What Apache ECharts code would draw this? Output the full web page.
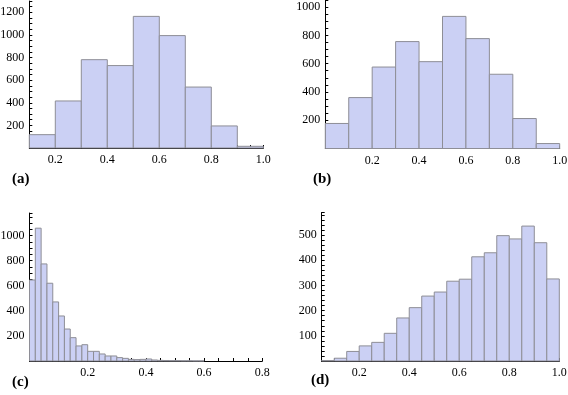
<!DOCTYPE html>
<html>
<head>
<meta charset="utf-8">
<script src="https://cdn.jsdelivr.net/npm/echarts@6/dist/echarts.min.js"></script>
<style>
    html, body {margin: 0; padding: 0; background: #fff;}
    #main {width: 568px; height: 395px;}
</style>
</head>
<body>
<div id="main"></div>
<script>
// 直方图数据 (a)(b)(c)(d)
const aStart = 0.1, aWidth = 0.1;
const aCounts = [118, 416, 781, 729, 1164, 994, 539, 195, 15];
const bStart = 0.0, bWidth = 0.1;
const bCounts = [177, 360, 576, 756, 614, 934, 777, 525, 212, 35];
const cStart = 0.0, cWidth = 0.02;
const cCounts = [646, 1059, 774, 620, 471, 359, 255, 186, 120, 130,
    77, 77, 56, 40, 40, 27, 21, 13, 11, 13,
    16, 8, 5, 4, 3, 3, 2, 2, 1, 1];
const dStart = 0.05, dWidth = 0.05;
const dCounts = [2, 11, 38, 60, 74, 110, 171, 212, 258, 274, 317,
    325, 414, 430, 498, 485, 536, 470, 326];

const xLabelsAB = [0.2, 0.4, 0.6, 0.8, 1.0];
const xLabelsC = [0.2, 0.4, 0.6, 0.8];
const xLabelsD = [0.2, 0.4, 0.6, 0.8, 1.0];
const yLabelsA = [200, 400, 600, 800, 1000, 1200];
const yLabelsB = [200, 400, 600, 800, 1000];
const yLabelsC = [200, 400, 600, 800, 1000];
const yLabelsD = [100, 200, 300, 400, 500];

const panelNames = ['(a)', '(b)', '(c)', '(d)'];

const font = 'Times New Roman, Liberation Serif, DejaVu Serif, serif';

function toBins(start, width, counts) {
    return counts.map((c, i) => [start + i * width, start + (i + 1) * width, c]);
}

function renderBar(params, api) {
    let p0 = api.coord([api.value(0), 0]);
    let p1 = api.coord([api.value(1), api.value(2)]);
    return {
        type: 'rect',
        shape: {x: p0[0], y: p1[1], width: p1[0] - p0[0], height: p0[1] - p1[1]},
        style: {fill: '#cbd0f4', stroke: '#8e8e96', lineWidth: 1}
    };
}

function xAxisOf(idx, min, max, tickStep, labels) {
    return {
        type: 'value', gridIndex: idx, min: min, max: max, interval: tickStep,
        axisLine: {lineStyle: {color: '#000', width: 1}},
        axisTick: {inside: true, length: 3, lineStyle: {color: '#000'}},
        axisLabel: {
            customValues: labels, color: '#000', fontFamily: font, fontSize: 12, margin: 6,
            formatter: v => v.toFixed(1)
        },
        splitLine: {show: false}
    };
}

function yAxisOf(idx, max, tickStep, labels) {
    return {
        type: 'value', gridIndex: idx, min: 0, max: max, interval: tickStep,
        axisLine: {show: true, lineStyle: {color: '#000', width: 1}},
        axisTick: {show: true, inside: true, length: 3, lineStyle: {color: '#000'}},
        axisLabel: {
            customValues: labels, color: '#000', fontFamily: font, fontSize: 12, margin: 5,
            formatter: v => String(Math.round(v))
        },
        splitLine: {show: false}
    };
}

let myChart = echarts.init(document.getElementById('main'), null, {renderer: 'canvas'});

let option = {
    animation: false,
    backgroundColor: '#fff',
    grid: [
        {left: 29.3, top: 1, width: 234, height: 147, outerBoundsMode: 'none'},
        {left: 325.3, top: 0, width: 234.4, height: 148.5, outerBoundsMode: 'none'},
        {left: 29.5, top: 213, width: 232.8, height: 148, outerBoundsMode: 'none'},
        {left: 321.7, top: 212.5, width: 237.6, height: 148.5, outerBoundsMode: 'none'}
    ],
    xAxis: [
        xAxisOf(0, 0.1, 1.0, 0.05, xLabelsAB),
        xAxisOf(1, 0.0, 1.0, 0.05, xLabelsAB),
        xAxisOf(2, 0.0, 0.8, 0.05, xLabelsC),
        xAxisOf(3, 0.05, 1.0, 0.05, xLabelsD)
    ],
    yAxis: [
        yAxisOf(0, 1300, 50, yLabelsA),
        yAxisOf(1, 1050, 50, yLabelsB),
        yAxisOf(2, 1180, 50, yLabelsC),
        yAxisOf(3, 590, 20, yLabelsD)
    ],
    series: [
        {type: 'custom', xAxisIndex: 0, yAxisIndex: 0, renderItem: renderBar, encode: {x: [0, 1], y: 2}, data: toBins(aStart, aWidth, aCounts)},
        {type: 'custom', xAxisIndex: 1, yAxisIndex: 1, renderItem: renderBar, encode: {x: [0, 1], y: 2}, data: toBins(bStart, bWidth, bCounts)},
        {type: 'custom', xAxisIndex: 2, yAxisIndex: 2, renderItem: renderBar, encode: {x: [0, 1], y: 2}, data: toBins(cStart, cWidth, cCounts)},
        {type: 'custom', xAxisIndex: 3, yAxisIndex: 3, renderItem: renderBar, encode: {x: [0, 1], y: 2}, data: toBins(dStart, dWidth, dCounts)}
    ],
    graphic: [
        {type: 'text', left: 12, top: 172, style: {text: panelNames[0], fontFamily: font, fontWeight: 'bold', fontSize: 15, fill: '#000'}},
        {type: 'text', left: 313, top: 172, style: {text: panelNames[1], fontFamily: font, fontWeight: 'bold', fontSize: 15, fill: '#000'}},
        {type: 'text', left: 12, top: 375, style: {text: panelNames[2], fontFamily: font, fontWeight: 'bold', fontSize: 15, fill: '#000'}},
        {type: 'text', left: 311, top: 373, style: {text: panelNames[3], fontFamily: font, fontWeight: 'bold', fontSize: 15, fill: '#000'}}
    ]
};
if (option && typeof option === "object") {
    myChart.setOption(option, true);
}
</script>
</body>
</html>
